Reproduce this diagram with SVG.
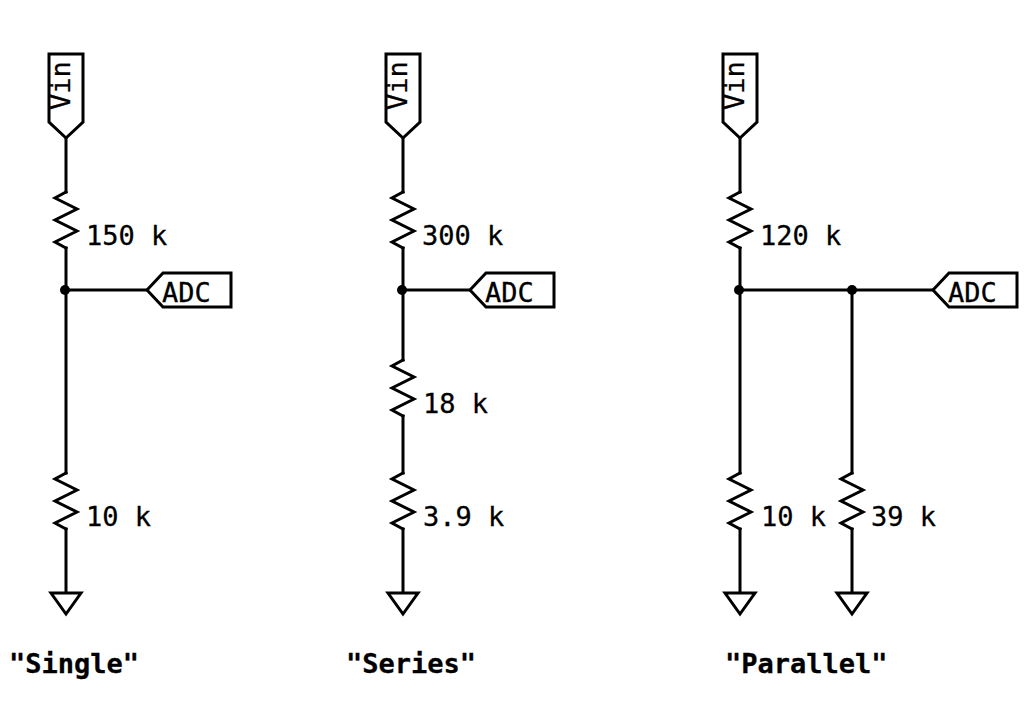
<svg xmlns="http://www.w3.org/2000/svg" width="1024" height="701" viewBox="0 0 1024 701">
<style>
.w{fill:none;stroke:#000;stroke-width:3;stroke-linejoin:miter;stroke-linecap:square}
.f{fill:#fff;stroke:#000;stroke-width:3;stroke-linejoin:miter}
.d{fill:#000;stroke:none}
text{font-family:"DejaVu Sans Mono","Liberation Mono",monospace;font-size:27px;fill:#000;stroke:#000;stroke-width:.3}
.t{font-weight:bold}
</style>
<defs>
<path id="r" class="w" d="M0 0L-11 6L11 17L-11 28L11 39L-11 50L0 56"/>
<path id="g" class="f" d="M-15 0H15L0 21Z"/>
<path id="vin" class="f" d="M-17 0H17V68L0 84L-17 68Z"/>
<path id="adc" class="f" d="M0 0L16 -17H84V17H16Z"/>
<circle id="j" class="d" r="5"/>
</defs>
<g id="connectors" class="w">
<path d="M66 138V192M66 248V473M66 529V593M66 290H147"/>
<path d="M403 138V192M403 248V360M403 416V473M403 529V593M403 290H470"/>
<path d="M740 138V192M740 248V473M740 529V593M740 290H933M852 290V473M852 529V593"/>
</g>
<g id="single">
<g id="s-vin"><use href="#vin" x="66" y="54"/><text transform="translate(70 110) rotate(-90)">Vin</text></g>
<g id="s-r1"><use href="#r" x="66" y="192"/><text x="86" y="245">150 k</text></g>
<g id="s-adc"><use href="#adc" x="147" y="290"/><text x="162" y="302">ADC</text></g>
<use id="s-j" href="#j" x="65" y="290"/>
<g id="s-r2"><use href="#r" x="66" y="473"/><text x="86" y="526">10 k</text></g>
<use id="s-g" href="#g" x="66" y="593"/>
<text id="s-title" class="t" x="9" y="673">"Single"</text>
</g>
<g id="series">
<g id="e-vin"><use href="#vin" x="403" y="54"/><text transform="translate(407 110) rotate(-90)">Vin</text></g>
<g id="e-r1"><use href="#r" x="403" y="192"/><text x="422" y="245">300 k</text></g>
<g id="e-adc"><use href="#adc" x="470" y="290"/><text x="485" y="302">ADC</text></g>
<use id="e-j" href="#j" x="402" y="290"/>
<g id="e-r2"><use href="#r" x="403" y="360"/><text x="423" y="413">18 k</text></g>
<g id="e-r3"><use href="#r" x="403" y="473"/><text x="423" y="526">3.9 k</text></g>
<use id="e-g" href="#g" x="403" y="593"/>
<text id="e-title" class="t" x="346" y="673">"Series"</text>
</g>
<g id="parallel">
<g id="p-vin"><use href="#vin" x="740" y="54"/><text transform="translate(744 110) rotate(-90)">Vin</text></g>
<g id="p-r1"><use href="#r" x="740" y="192"/><text x="760" y="245">120 k</text></g>
<g id="p-adc"><use href="#adc" x="933" y="290"/><text x="948" y="302">ADC</text></g>
<use id="p-j1" href="#j" x="739" y="290"/>
<use id="p-j2" href="#j" x="852" y="290"/>
<g id="p-r2"><use href="#r" x="740" y="473"/><text x="761" y="526">10 k</text></g>
<g id="p-r3"><use href="#r" x="852" y="473"/><text x="871" y="526">39 k</text></g>
<use id="p-g1" href="#g" x="740" y="593"/>
<use id="p-g2" href="#g" x="852" y="593"/>
<text id="p-title" class="t" x="725" y="673">"Parallel"</text>
</g>
</svg>
